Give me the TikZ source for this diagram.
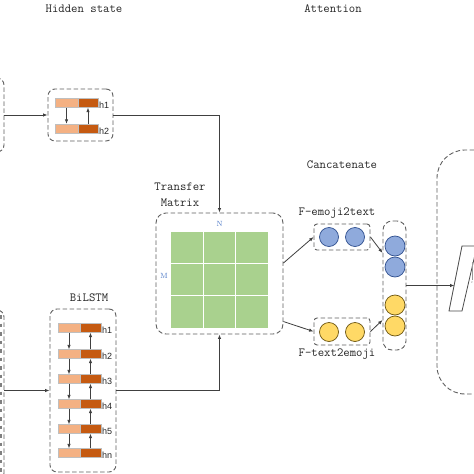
\documentclass[tikz,border=0pt]{standalone}
\usepackage{fontspec}
\newfontfamily\lsans{Liberation Sans}
\usetikzlibrary{arrows.meta,calc}
\definecolor{lbarc}{HTML}{F4B183}
\definecolor{dbarc}{HTML}{C55A11}
\definecolor{gridc}{HTML}{A9D18E}
\definecolor{bluec}{HTML}{8FAADC}
\definecolor{blueo}{HTML}{2F4F8F}
\definecolor{yelc}{HTML}{FFD966}
\definecolor{yelo}{HTML}{6B5410}
\definecolor{dashc}{HTML}{606060}
\definecolor{linec}{HTML}{404040}
\definecolor{labc}{HTML}{4472C4}
\begin{document}
\begin{tikzpicture}[x=1pt,y=-1pt,
  dbox/.style={draw=dashc, dash pattern=on 4.5pt off 2.5pt, line width=0.9pt, rounded corners=7pt, inner sep=0pt},
  lbar/.style={draw=black!25, line width=0.3pt, fill=lbarc, inner sep=0pt, minimum height=9pt},
  dbar/.style={draw=black!25, line width=0.3pt, fill=dbarc, inner sep=0pt, minimum height=9pt},
  hlab/.style={font=\lsans\fontsize{9}{9}\selectfont, text=black!85, inner sep=0pt, anchor=west},
  ttl/.style={font=\ttfamily\fontsize{12.4}{16}\selectfont, text=black!85, inner sep=0pt},
  arr/.style={draw=linec, line width=0.8pt, -{Latex[length=4.5pt,width=3.5pt]}},
  bcirc/.style={circle, draw=blueo, line width=0.7pt, fill=bluec, minimum size=19pt, inner sep=0pt},
  ycirc/.style={circle, draw=yelo, line width=0.7pt, fill=yelc, minimum size=19pt, inner sep=0pt},
  mlab/.style={font=\rmfamily\fontsize{7.5}{7.5}\selectfont, text=labc, inner sep=0pt}
]
\useasboundingbox (0,0) rectangle (474,474);
\fill[white] (0,0) rectangle (474,474);

% titles
\node[ttl] (t1) at (84,9) {Hidden state};
\node[ttl] (t2) at (333,9) {Attention};
\node[ttl] (t3) at (89,298) {BiLSTM};
\node[ttl, align=center] (t4) at (180,195) {Transfer\\Matrix};
\node[ttl] (t5) at (342,165) {Cancatenate};
\node[ttl] (t6) at (337,213) {F-emoji2text};
\node[ttl] (t7) at (337,354) {F-text2emoji};

% cropped left boxes
\node[dbox, minimum width=60pt, minimum height=74pt] (emb1) at (-26,115) {};
\node[dbox, minimum width=60pt, minimum height=170pt] (emb2) at (-26,395) {};
\draw[black!50, line width=1.6pt, dash pattern=on 3.5pt off 5pt] (1,315) -- (1,474);

% hidden state box
\node[dbox, minimum width=65pt, minimum height=52pt] (hs) at (80.5,115) {};
\node[lbar, minimum width=23pt] (hl1) at (66.5,103) {};
\node[dbar, minimum width=20pt] (hd1) at (88,103) {};
\node[lbar, minimum width=23pt] (hl2) at (66.5,128.5) {};
\node[dbar, minimum width=20pt] (hd2) at (88,128.5) {};
\node[hlab] (hh1) at (99,105) {h1};
\node[hlab] (hh2) at (99,131) {h2};
\draw[arr] (hl1.south) -- (hl2.north);
\draw[arr] (hd2.north) -- (hd1.south);

% BiLSTM box
\node[dbox, minimum width=66pt, minimum height=163pt] (bl) at (83,390.5) {};
\foreach \i/\yy/\lab in {1/328/h1,2/354/h2,3/379/h3,4/404/h4,5/429/h5,6/453/hn}{
  \node[lbar, minimum width=22pt] (bl\i) at (69,\yy) {};
  \node[dbar, minimum width=21pt] (bd\i) at (90.5,\yy) {};
  \node[hlab] (bh\i) at (102,\yy+2) {\lab};
}
\foreach \i/\j in {1/2,2/3,3/4,4/5,5/6}{
  \draw[arr] (bl\i.south) -- (bl\j.north);
  \draw[arr] (bd\j.north) -- (bd\i.south);
}

% transfer matrix
\node[dbox, minimum width=127pt, minimum height=121pt, rounded corners=10pt] (tm) at (219.5,273.5) {};
\node[fill=gridc, minimum width=97pt, minimum height=96pt, inner sep=0pt] (grid) at (219.5,280) {};
\foreach \k in {1,2}{
  \draw[white, line width=0.9pt] ($(grid.north west)+(97*\k/3,0)$) -- ($(grid.south west)+(97*\k/3,0)$);
  \draw[white, line width=0.9pt] ($(grid.north west)+(0,96*\k/3)$) -- ($(grid.north east)+(0,96*\k/3)$);
}
\node[mlab] (nl) at (219.5,224) {N};
\node[mlab] (ml) at (164,276) {M};

% feature boxes
\node[dbox, minimum width=56pt, minimum height=26pt, rounded corners=3pt] (fe) at (342,237) {};
\node[bcirc] (fe1) at (329,237) {};
\node[bcirc] (fe2) at (355,237) {};
\node[dbox, minimum width=56pt, minimum height=27pt, rounded corners=3pt] (te) at (342,331.5) {};
\node[ycirc] (te1) at (329,332) {};
\node[ycirc] (te2) at (355,332) {};

% concatenate
\node[dbox, minimum width=23pt, minimum height=129pt, rounded corners=9pt] (cc) at (394.5,285.5) {};
\node[bcirc, minimum size=20pt] (c1) at (395,246) {};
\node[bcirc, minimum size=20pt] (c2) at (395,267) {};
\node[ycirc, minimum size=20pt] (c3) at (395,305) {};
\node[ycirc, minimum size=20pt] (c4) at (395,326) {};

% right big box
\node[dbox, minimum width=86pt, minimum height=244pt, rounded corners=28pt] (rb) at (480,272) {};
\draw[black!70, line width=0.8pt] (462,246) -- (477,246) -- (462,311) -- (449,311) -- cycle;
\draw[black!40, line width=0.8pt] (472.5,262) -- (472.5,280);
\node[font=\fontsize{4}{4}\selectfont, text=black!50, inner sep=0pt] (cl) at (472,283) {c};
\coordinate (pl) at (454.5,285.5);

% connectors
\draw[arr] (emb1.east) -- (hs.west);
\draw[arr] (emb2.east |- bl.west) -- (bl.west);
\draw[arr] (hs.east) -- (tm.north |- hs.east) -- (tm.north);
\draw[arr] (bl.east) -- (tm.south |- bl.east) -- (tm.south);
\draw[arr] ([yshift=10.5pt]tm.east) -- (fe.west);
\draw[arr] ([yshift=-48pt]tm.east) -- (te.west);
\draw[arr] (fe.east) -- ([yshift=32.5pt]cc.west);
\draw[arr] (te.east) -- ([yshift=-34.5pt]cc.west);
\draw[arr] (cc.east) -- (pl);
\end{tikzpicture}
\end{document}
